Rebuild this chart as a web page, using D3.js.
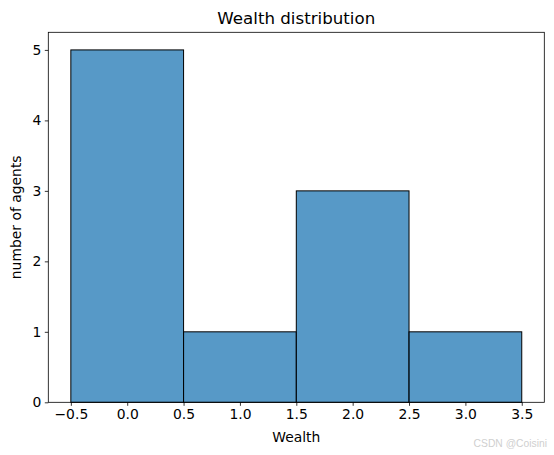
<!DOCTYPE html>
<html>
<head>
<meta charset="utf-8">
<script src="https://cdn.jsdelivr.net/npm/d3@7"></script>
<style>
  body { margin: 0; background: #fff; }
  text { font-family: "DejaVu Sans", sans-serif; fill: #000; }
</style>
</head>
<body>
<script>
// histogram of agent wealth: bin edges and counts
const binEdges = [-0.5, 0.5, 1.5, 2.5, 3.5];
const counts = [5, 1, 3, 1];
const xTicks = [-0.5, 0.0, 0.5, 1.0, 1.5, 2.0, 2.5, 3.0, 3.5];
const yTicks = [0, 1, 2, 3, 4, 5];

const width = 554, height = 455;
const margin = { left: 48.3, top: 32.3, right: 554 - 544.3, bottom: 455 - 402.3 };

const svg = d3.select('body')
    .append('svg')
    .attr('width', width)
    .attr('height', height);

const x = d3.scaleLinear()
    .domain([-0.7, 3.7])
    .range([margin.left, width - margin.right]);
const y = d3.scaleLinear()
    .domain([0, 5.25])
    .range([height - margin.bottom, margin.top]);

const bins = counts.map((c, i) => ({ x0: binEdges[i], x1: binEdges[i + 1], count: c }));

// bars
svg.append('g')
    .selectAll('rect')
    .data(bins)
    .enter()
    .append('rect')
    .attr('x', d => x(d.x0))
    .attr('y', d => y(d.count))
    .attr('width', d => x(d.x1) - x(d.x0))
    .attr('height', d => y(0) - y(d.count))
    .attr('fill', '#1f77b4')
    .attr('fill-opacity', 0.75)
    .attr('stroke', '#000')
    .attr('stroke-width', 1);

// axes
const xAxis = svg.append('g')
    .attr('transform', `translate(0,${y.range()[0]})`)
    .call(d3.axisBottom(x).tickValues(xTicks).tickSize(3.5).tickPadding(3.5)
        .tickFormat(d => d3.format('.1f')(d).replace('-', '\u2212')));
const yAxis = svg.append('g')
    .attr('transform', `translate(${x.range()[0]},0)`)
    .call(d3.axisLeft(y).tickValues(yTicks).tickSize(3.5).tickPadding(3.5)
        .tickFormat(d3.format('d')));

[xAxis, yAxis].forEach(g => {
    g.select('.domain').remove();
    g.selectAll('line').attr('stroke', '#000').attr('stroke-width', 0.8);
    g.selectAll('text').style('font-family', '"DejaVu Sans", sans-serif')
        .style('font-size', '13.9px').attr('fill', '#000');
});

// frame
svg.append('rect')
    .attr('x', x.range()[0])
    .attr('y', y.range()[1])
    .attr('width', x.range()[1] - x.range()[0])
    .attr('height', y.range()[0] - y.range()[1])
    .attr('fill', 'none')
    .attr('stroke', '#000')
    .attr('stroke-width', 0.8);

// title and labels
svg.append('text')
    .attr('x', (x.range()[0] + x.range()[1]) / 2)
    .attr('y', 24)
    .attr('text-anchor', 'middle')
    .style('font-size', '16.67px')
    .text('Wealth distribution');

svg.append('text')
    .attr('x', (x.range()[0] + x.range()[1]) / 2)
    .attr('y', 442)
    .attr('text-anchor', 'middle')
    .style('font-size', '13.9px')
    .text('Wealth');

svg.append('text')
    .attr('transform', `translate(21,${(y.range()[0] + y.range()[1]) / 2}) rotate(-90)`)
    .attr('text-anchor', 'middle')
    .style('font-size', '13.9px')
    .text('number of agents');

// watermark
svg.append('text')
    .attr('x', 547)
    .attr('y', 447)
    .attr('text-anchor', 'end')
    .style('font-family', '"Liberation Sans", Arial, sans-serif')
    .style('font-size', '10.3px')
    .style('fill', '#cfcfcf')
    .text('CSDN @Coisini');
</script>
</body>
</html>
